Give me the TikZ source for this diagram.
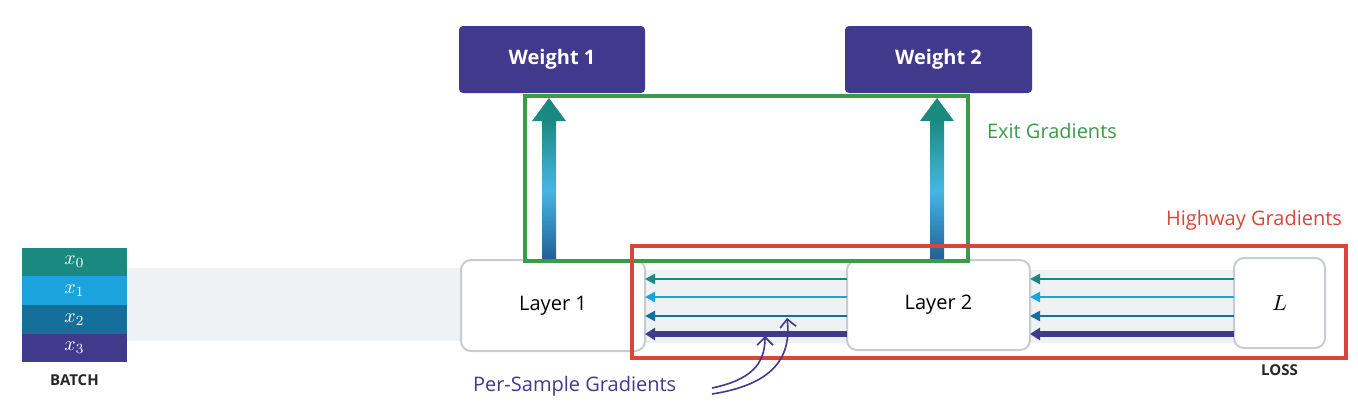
\documentclass[tikz,border=0pt]{standalone}
\usepackage{fontspec}
\setmainfont{Open Sans}
\usetikzlibrary{arrows.meta}
\definecolor{cteal}{HTML}{1A8A80}
\definecolor{clb}{HTML}{1AA3DC}
\definecolor{cdb}{HTML}{14709A}
\definecolor{cpur}{HTML}{41398B}
\definecolor{cgreen}{HTML}{3C9A4A}
\definecolor{cred}{HTML}{D9453A}
\definecolor{cband}{HTML}{EEF2F5}
\definecolor{cgray}{HTML}{C8CCD0}
\tikzset{
 layerbox/.style={draw=cgray,line width=1pt,fill=white,rounded corners=5pt,font=\fontsize{10}{12}\selectfont},
 weightbox/.style={fill=cpur,rounded corners=2pt,text=white,font=\fontsize{10}{12}\selectfont\bfseries},
 hg/.style={-{Triangle[length=5pt,width=5pt]},line width=1.2pt},
 hgt/.style={-{Triangle[length=5pt,width=6pt]},line width=3pt},
 captext/.style={font=\fontsize{7.5}{9}\selectfont\bfseries,text=black!85}
}
\begin{document}
\begin{tikzpicture}[x=0.5pt,y=-0.5pt]
\useasboundingbox (0,0) rectangle (1358,402);
% bands
\fill[cband] (127,268) rectangle (462,341);
\fill[cband] (645,270) rectangle (847,343);
\fill[cband] (1030,270) rectangle (1234,343);
% batch
\fill[cteal] (22,248) rectangle (127,276);
\fill[clb] (22,276) rectangle (127,305);
\fill[cdb] (22,305) rectangle (127,334);
\fill[cpur] (22,334) rectangle (127,362);
\node[text=white] (x0) at (74.5,262) {$x_0$};
\node[text=white] (x1) at (74.5,290.5) {$x_1$};
\node[text=white] (x2) at (74.5,319.5) {$x_2$};
\node[text=white] (x3) at (74.5,348) {$x_3$};
\node[captext] (batch) at (74.5,380) {BATCH};
% boxes
\node[layerbox,minimum width=92pt,minimum height=45.5pt] (l1) at (553,305.5) {Layer 1};
\node[layerbox,minimum width=91.5pt,minimum height=45pt] (l2) at (938.5,305) {Layer 2};
\node[layerbox,minimum width=45.5pt,minimum height=45pt,font=\fontsize{11}{12}\selectfont] (L) at (1279.5,303) {$L$};
\node[captext] (loss) at (1279.5,370) {LOSS};
\node[weightbox,minimum width=93pt,minimum height=33.5pt] (w1) at (552,59.5) {Weight 1};
\node[weightbox,minimum width=93.5pt,minimum height=33.5pt] (w2) at (938.5,59.5) {Weight 2};
% vertical gradient arrows
\foreach \xx in {549,937}{
 \shade[top color=cteal,bottom color=cdb!70!cpur,middle color=clb!80!white] (\xx-7,120) rectangle (\xx+7,260);
 \fill[cteal] (\xx-17,121) -- (\xx,98) -- (\xx+17,121) -- cycle;
}
% horizontal arrows
\draw[hg,cteal] (847,279) -- (645,279);
\draw[hg,clb] (847,297) -- (645,297);
\draw[hg,cdb] (847,316) -- (645,316);
\draw[hgt,cpur] (847,334) -- (645,334);
\draw[hg,cteal] (1234,279) -- (1030,279);
\draw[hg,clb] (1234,297) -- (1030,297);
\draw[hg,cdb] (1234,316) -- (1030,316);
\draw[hgt,cpur] (1234,334) -- (1030,334);
% frames
\draw[cgreen,line width=1.6pt] (525,96) rectangle (968,261);
\draw[cred,line width=1.6pt] (632,246) rectangle (1346,358);
\node[text=cgreen,anchor=west,font=\fontsize{10}{12}\selectfont] (exit) at (980,131) {Exit Gradients};
\node[text=cred,anchor=east,font=\fontsize{10}{12}\selectfont] (hw) at (1349,220) {Highway Gradients};
\node[text=cpur,anchor=west,font=\fontsize{10}{12}\selectfont] (ps) at (466,386) {Per-Sample Gradients};
\coordinate (t1) at (765,336);
\coordinate (t2) at (787,318);
\draw[cpur,line width=0.8pt,-{Straight Barb[length=4pt]}] (712,388) .. controls (750,380) and (765,365) .. (t1);
\draw[cpur,line width=0.8pt,-{Straight Barb[length=4pt]}] (712,394) .. controls (770,385) and (792,360) .. (t2);
\end{tikzpicture}
\end{document}
